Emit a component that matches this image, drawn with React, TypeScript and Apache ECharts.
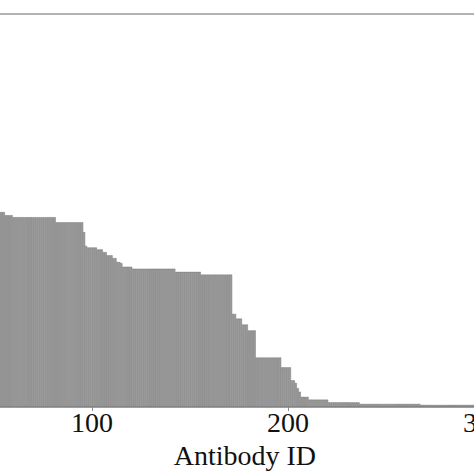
import React, { useEffect, useRef } from "react";
import * as echarts from "echarts";

// Run-length description of the sorted bar heights:
// each entry = number of consecutive antibodies sharing the value.
const runCounts = [3, 7, 10, 10, 10, 10, 5, 4, 22, 14, 1, 1, 5, 3, 2, 3, 2, 2, 1, 5, 22, 13, 16, 2, 3, 3, 4, 13, 5, 2, 1, 1, 1, 4, 10, 16, 31, 33, 55];
const runValues = [92, 85, 78, 70, 63, 56, 49.6, 48.8, 48.3, 47.0, 44.5, 41.0, 40.6, 40.1, 39.4, 38.6, 37.9, 36.9, 36.6, 35.7, 35.2, 34.4, 33.7, 23.7, 22.5, 21.0, 19.5, 12.6, 10.1, 6.8, 6.1, 4.8, 3.9, 2.6, 1.9, 1.2, 0.8, 0.55, 0.4];

const xTicks = [0, 100, 200, 300];
const xTitle = "Antibody ID";

export default function App() {
  const ref = useRef<HTMLDivElement>(null);
  useEffect(() => {
    if (!ref.current) return;
    const chart = echarts.init(ref.current, undefined, { renderer: "svg" });
    const data: [number, number][] = [];
    let id = 1;
    runCounts.forEach((c, k) => {
      for (let j = 0; j < c; j++) {
        data.push([id, runValues[k]]);
        id++;
      }
    });
    const frame = "#8c8c8c";
    chart.setOption({
      animation: false,
      grid: { left: 96, right: 106.2, top: 10, bottom: 61.5 },
      xAxis: [
        {
          type: "value",
          min: 0,
          max: 356,
          interval: 100,
          name: xTitle,
          nameLocation: "middle",
          nameGap: 26,
          nameTextStyle: { fontFamily: "Liberation Serif", fontSize: 28, color: "#111" },
          axisLine: { show: true, lineStyle: { color: frame, width: 1.5 } },
          axisTick: { show: true, length: 4, lineStyle: { color: frame } },
          axisLabel: {
            fontFamily: "Liberation Serif",
            fontSize: 28,
            color: "#111",
            margin: 1,
            showMaxLabel: false,
            formatter: (v: number) => (xTicks.includes(v) ? String(v) : ""),
          },
          splitLine: { show: false },
        },
        {
          type: "value",
          position: "top",
          min: 0,
          max: 356,
          axisLine: { show: true, onZero: false, lineStyle: { color: "#999", width: 1.5 } },
          axisTick: { show: false },
          axisLabel: { show: false },
          splitLine: { show: false },
        },
      ],
      yAxis: {
        type: "value",
        min: 0,
        max: 100,
        axisLine: { show: true, lineStyle: { color: frame } },
        axisLabel: { fontFamily: "Liberation Serif", fontSize: 28, color: "#111" },
        splitLine: { show: false },
      },
      series: [
        {
          type: "bar",
          data,
          barWidth: "100%",
          itemStyle: { color: "#a3a3a3", borderColor: "#5e5e5e", borderWidth: 0.4 },
        },
      ],
    });
    return () => chart.dispose();
  }, []);
  return (
    <div
      ref={ref}
      style={{ position: "fixed", left: -200, top: 0, width: 900, height: 474, background: "#fff" }}
    />
  );
}
